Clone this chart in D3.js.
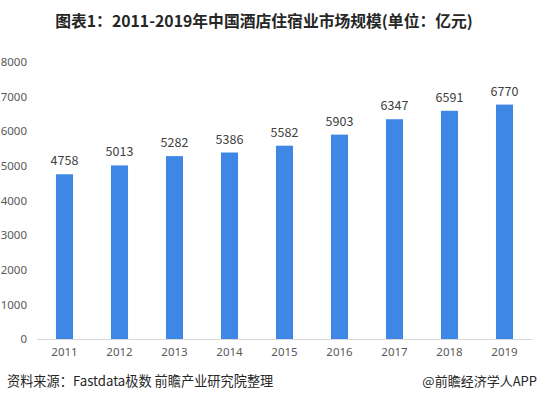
<!DOCTYPE html>
<html><head><meta charset="utf-8">
<script src="https://cdn.jsdelivr.net/npm/d3@7/dist/d3.min.js"></script>
<style>body{margin:0;background:#fff;}svg{display:block;font-family:"Microsoft YaHei","Noto Sans CJK SC","Noto Sans",sans-serif;}</style>
</head><body>
<svg id="c" width="539" height="401"></svg>
<script>
const years = ["2011","2012","2013","2014","2015","2016","2017","2018","2019"];
const values = [4758,5013,5282,5386,5582,5903,6347,6591,6770];
const yTicks = [0,1000,2000,3000,4000,5000,6000,7000,8000];
const title = "图表1：2011-2019年中国酒店住宿业市场规模(单位：亿元)";
const source = "资料来源：Fastdata极数 前瞻产业研究院整理";
const brand = "@前瞻经济学人APP";

const svg = d3.select("#c");
const x = d3.scaleBand().domain(years).range([37,532]).paddingInner(0.69).paddingOuter(0.345);
const y = d3.scaleLinear().domain([0,8000]).range([339,62]);

svg.append("text").attr("x",264).attr("y",27).attr("text-anchor","middle")
  .attr("font-size",15.8).attr("font-weight","bold").attr("fill","#262626").text(title);

const ya = svg.append("g").attr("transform","translate(27,0)")
  .call(d3.axisLeft(y).tickValues(yTicks).tickSize(0).tickPadding(0).tickFormat(d3.format("d")));
ya.select(".domain").remove();
ya.selectAll("text").attr("font-size",11.5).attr("fill","#595959").attr("font-family","'Microsoft YaHei','Noto Sans',sans-serif");

const xa = svg.append("g").attr("transform","translate(0,339)")
  .call(d3.axisBottom(x).tickSize(0).tickPadding(9));
xa.select(".domain").attr("stroke","#d9d9d9");
xa.selectAll("text").attr("font-size",11.5).attr("fill","#595959").attr("font-family","'Microsoft YaHei','Noto Sans',sans-serif");

svg.selectAll("rect.bar").data(values).join("rect").attr("class","bar")
  .attr("x",(d,i)=>x(years[i])).attr("width",x.bandwidth())
  .attr("y",d=>y(d)).attr("height",d=>339-y(d)).attr("fill","#3f87e5");

svg.selectAll("text.val").data(values).join("text").attr("class","val")
  .attr("x",(d,i)=>x(years[i])+x.bandwidth()/2).attr("y",d=>y(d)-9)
  .attr("text-anchor","middle").attr("font-size",12.5).attr("fill","#404040").text(d=>d);

svg.append("line").attr("x1",37).attr("x2",532).attr("y1",339.5).attr("y2",339.5).attr("stroke","#d9d9d9");

svg.append("text").attr("x",7).attr("y",386).attr("font-size",13.2).attr("fill","#262626").text(source);
svg.append("text").attr("x",537).attr("y",386).attr("text-anchor","end").attr("font-size",13).attr("fill","#262626").text(brand);
</script>
</body></html>
